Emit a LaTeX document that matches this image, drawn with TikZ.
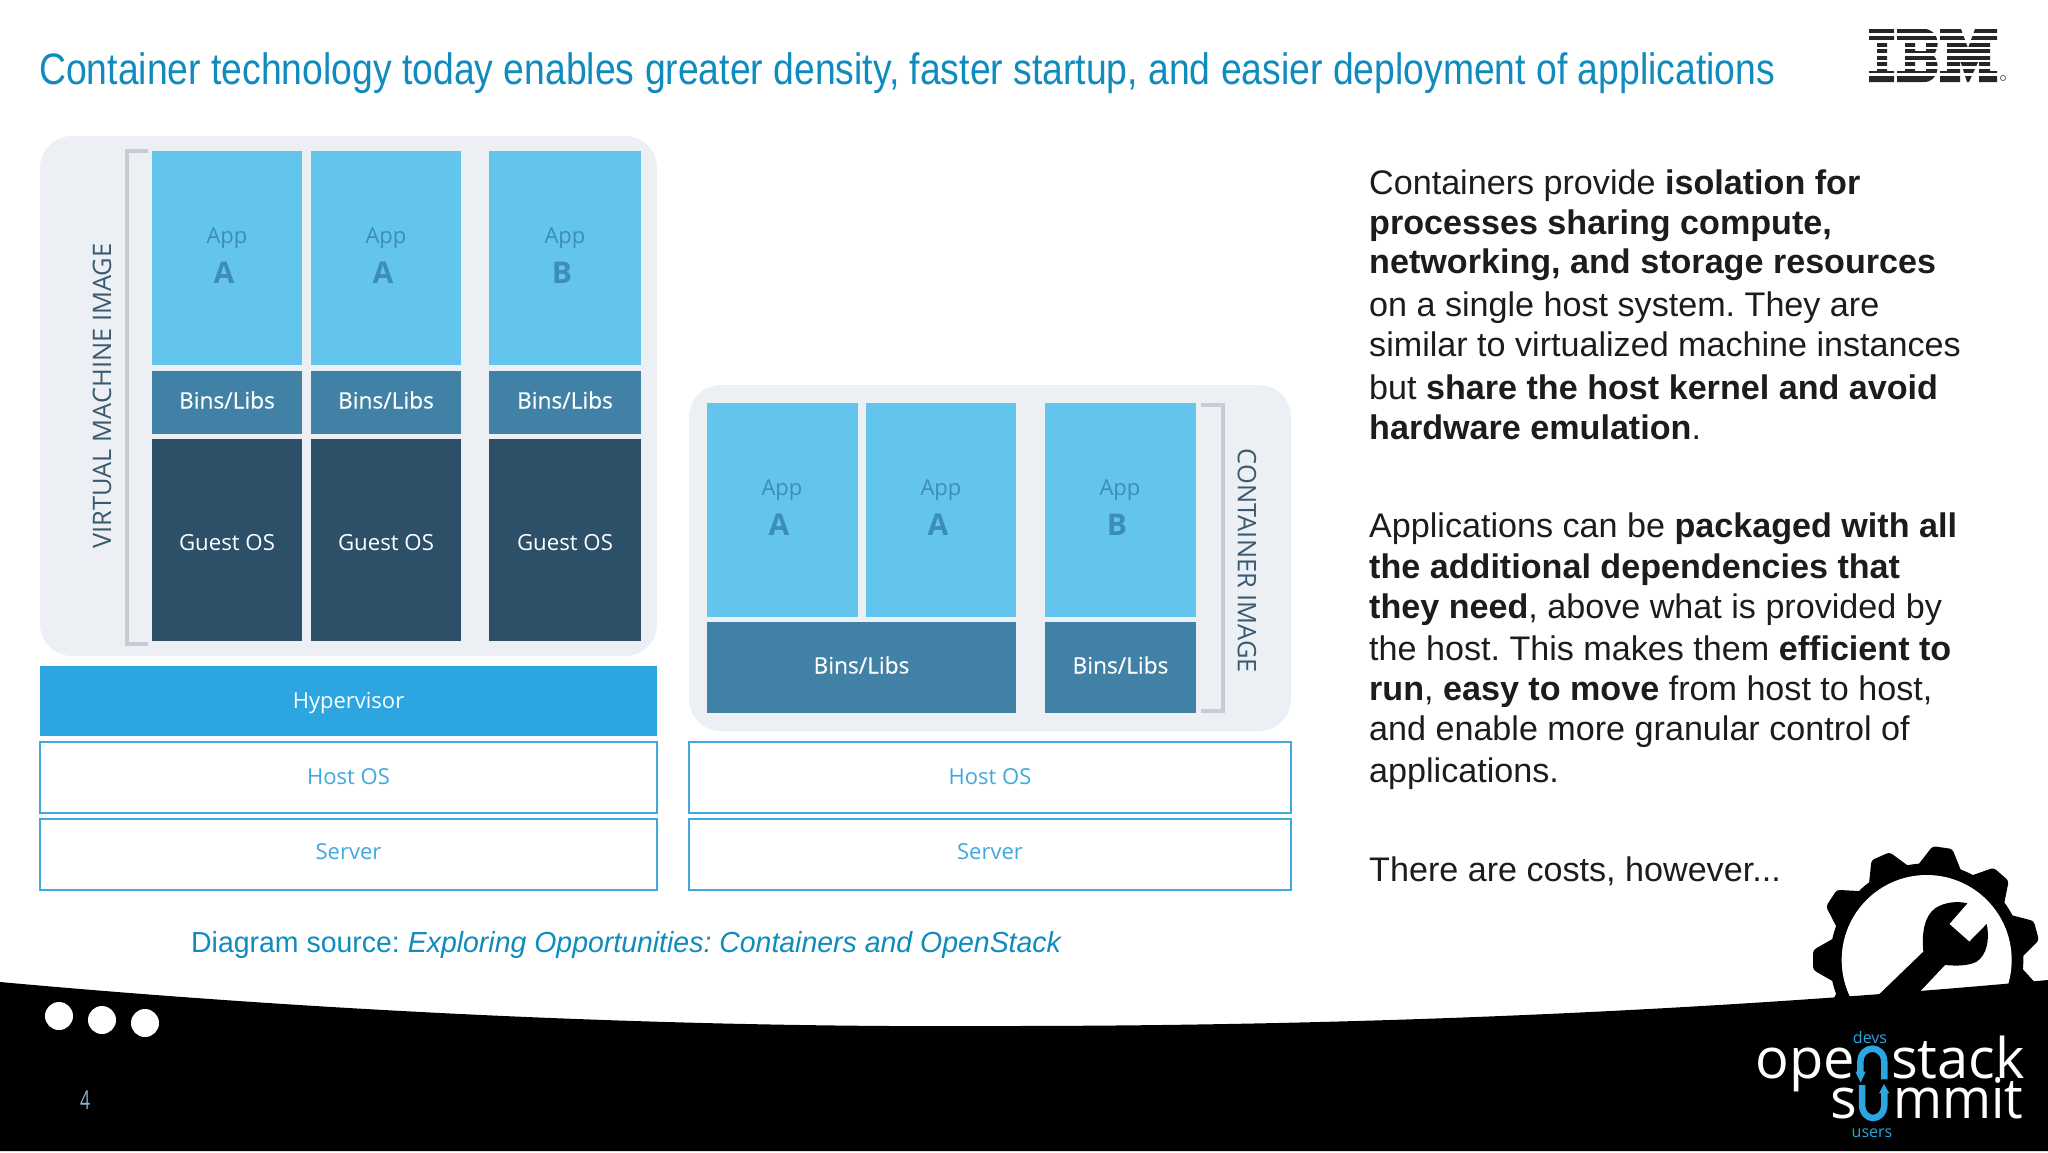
\documentclass[tikz,border=0pt]{standalone}
\usepackage{graphicx}
\usepackage{fontspec}
\setmainfont{Liberation Sans}
\newfontfamily\labelfont{Open Sans}
\newfontfamily\binsfont[FakeBold=0.35]{Open Sans}
\definecolor{panelc}{HTML}{ECF0F5}
\definecolor{appc}{HTML}{63C5EE}
\definecolor{binsc}{HTML}{4181A6}
\definecolor{guestc}{HTML}{2C5068}
\definecolor{hyperc}{HTML}{2CA5E0}
\definecolor{linec}{HTML}{3FA9DD}
\definecolor{apptext}{HTML}{3D8DB9}
\definecolor{titlec}{HTML}{0F8BBD}
\definecolor{bracketc}{HTML}{C8CCD2}
\definecolor{sidetext}{HTML}{3A5A70}
\definecolor{bodyc}{HTML}{1C1C1C}
\definecolor{pagenum}{HTML}{8AB4D0}
\definecolor{loopc}{HTML}{2CA5E0}
\newcommand{\fs}[1]{\fontsize{#1}{#1}\selectfont}
\newcommand{\pbox}[7]{\node[#2,anchor=north west,minimum width={#5-#3},minimum height={#6-#4}] (#1) at (#3,#4) {#7};}
\newcommand{\bodyline}[3]{\node[bodytext] (#1) at (1369,#2) {#3};}
\newcommand{\shifted}[2]{\raisebox{#1}[12pt][12pt]{#2}}
\newcommand{\binstext}{\shifted{-6pt}{Bins/Libs}}
\newcommand{\guesttext}{\shifted{-10.5pt}{Guest OS}}
\newcommand{\hosttext}{\shifted{-6.5pt}{Host OS}}
\newcommand{\servertext}{\shifted{-5.2pt}{Server}}
\tikzset{
  flatbox/.style={inner sep=0,outer sep=0,rectangle},
  appbox/.style={flatbox,fill=appc},
  binsbox/.style={flatbox,fill=binsc,text=white,font=\binsfont\fs{22.7}},
  guestbox/.style={flatbox,fill=guestc,text=white,font=\labelfont\fs{22.2}},
  hyperbox/.style={flatbox,fill=hyperc,text=white,font=\labelfont\fs{22}},
  hostbox/.style={flatbox,draw=linec,line width=2.6pt,fill=white,text=linec,font=\labelfont\fs{22}},
  panelbox/.style={flatbox,fill=panelc,rounded corners=32pt},
  apptxt/.style={inner sep=0,text=apptext,font=\labelfont\fs{22}},
  appletter/.style={inner sep=0,text=apptext,font=\labelfont\bfseries\fs{30}},
  sidelabel/.style={inner sep=0,text=sidetext,font=\labelfont\fs{25.45}},
  bracket/.style={draw=bracketc,line width=4.5pt},
  bodytext/.style={inner sep=0,anchor=base west,text=bodyc,font=\fs{34.12}\frenchspacing},
  logotext/.style={inner sep=0,anchor=base west,text=white,font=\labelfont\fs{56}},
  logosmall/.style={inner sep=0,text=loopc,font=\labelfont\fs{16}},
}
\begin{document}
\begin{tikzpicture}[x=1pt,y=-1pt]
\useasboundingbox (0,0) rectangle (2048,1152);
\fill[white] (0,0) rectangle (2048,1152);

% title
\node[inner sep=0,anchor=base west,text=titlec,font=\fs{44}\frenchspacing] (title) at (39,84)
  {\resizebox{1736pt}{\height}{Container technology today enables greater density, faster startup, and easier deployment of applications}};

% IBM logo
\fill[black!85,even odd rule]
  (1869,29) -- (1894,29) -- (1894,40) -- (1887,40) -- (1887,71) -- (1894,71) -- (1894,82) -- (1869,82) -- (1869,71) -- (1877,71) -- (1877,40) -- (1869,40) -- cycle
  (1897,29) -- (1924,29) .. controls (1939,29) and (1941,48) .. (1933,55) .. controls (1941,62) and (1939,82) .. (1924,82) -- (1897,82) -- (1897,71) -- (1905,71) -- (1905,40) -- (1897,40) -- cycle
  (1915,40) -- (1926,40) -- (1926,51) -- (1915,51) -- cycle
  (1915,60) -- (1926,60) -- (1926,71) -- (1915,71) -- cycle
  (1940,29) -- (1961,29) -- (1968,48) -- (1975,29) -- (1997,29) -- (1997,40) -- (1990,40) -- (1990,71) -- (1997,71) -- (1997,82) -- (1979,82) -- (1979,60) -- (1969,82) -- (1967,82) -- (1960,60) -- (1960,82) -- (1940,82) -- (1940,71) -- (1947,71) -- (1947,40) -- (1940,40) -- cycle;
\foreach \k in {0,...,6} {
  \fill[white] (1865,{33.4+6.6*\k}) rectangle (2000,{35.9+6.6*\k});
}
\draw[black!60,line width=.8pt] (2003,78) circle (2.6);

% left panel
\pbox{vmpanel}{panelbox}{40}{136}{657}{656}{}
\draw[bracket] (148,151) -- (127,151) -- (127,644) -- (148,644);
\node[sidelabel,rotate=90] (vmlabel) at (102,396) {VIRTUAL MACHINE IMAGE};
\pbox{appa1}{appbox}{152}{151}{302}{365}{}
\pbox{appa2}{appbox}{311}{151}{461}{365}{}
\pbox{appb1}{appbox}{489}{151}{641}{365}{}
\node[apptxt] (appa1t) at (227,238.5) {App};
\node[appletter] (appa1l) at (224,273) {A};
\node[apptxt] (appa2t) at (386,238.5) {App};
\node[appletter] (appa2l) at (383,273) {A};
\node[apptxt] (appb1t) at (565,238.5) {App};
\node[appletter] (appb1l) at (562,273) {B};
\pbox{binsa1}{binsbox}{152}{371}{302}{434}{\binstext}
\pbox{binsa2}{binsbox}{311}{371}{461}{434}{\binstext}
\pbox{binsb1}{binsbox}{489}{371}{641}{434}{\binstext}
\pbox{guesta1}{guestbox}{152}{439}{302}{641}{\guesttext}
\pbox{guesta2}{guestbox}{311}{439}{461}{641}{\guesttext}
\pbox{guestb1}{guestbox}{489}{439}{641}{641}{\guesttext}
\pbox{hyper}{hyperbox}{40}{666}{657}{736}{\shifted{-7pt}{Hypervisor}}
\pbox{hostl}{hostbox}{40}{742}{657}{813}{\hosttext}
\pbox{serverl}{hostbox}{40}{819}{657}{890}{\servertext}

% right panel
\pbox{ctpanel}{panelbox}{689}{385}{1291}{731}{}
\draw[bracket] (1201,405) -- (1223,405) -- (1223,711) -- (1201,711);
\node[sidelabel,rotate=-90] (ctlabel) at (1247,561) {CONTAINER IMAGE};
\pbox{appc1}{appbox}{707}{403}{858}{617}{}
\pbox{appc2}{appbox}{866}{403}{1016}{617}{}
\pbox{appc3}{appbox}{1045}{403}{1196}{617}{}
\node[apptxt] (appc1t) at (782,490.5) {App};
\node[appletter] (appc1l) at (779,525) {A};
\node[apptxt] (appc2t) at (941,490.5) {App};
\node[appletter] (appc2l) at (938,525) {A};
\node[apptxt] (appc3t) at (1120,490.5) {App};
\node[appletter] (appc3l) at (1117,525) {B};
\pbox{binsc1}{binsbox}{707}{622}{1016}{713}{\binstext}
\pbox{binsc2}{binsbox}{1045}{622}{1196}{713}{\binstext}
\pbox{hostr}{hostbox}{689}{742}{1291}{813}{\hosttext}
\pbox{serverr}{hostbox}{689}{819}{1291}{890}{\servertext}

% caption
\node[inner sep=0,anchor=base west,text=titlec,font=\fs{29}\frenchspacing] (source) at (191,952)
  {\resizebox{871pt}{\height}{Diagram source: \textit{Exploring Opportunities: Containers and OpenStack}}};

% body text
\bodyline{l1}{194}{Containers provide \textbf{isolation for}}
\bodyline{l2}{234}{\textbf{processes sharing compute,}}
\bodyline{l3}{273}{\textbf{networking, and storage resources}}
\bodyline{l4}{316}{on a single host system. They are}
\bodyline{l5}{356}{similar to virtualized machine instances}
\bodyline{l6}{399}{but \textbf{share the host kernel and avoid}}
\bodyline{l7}{439}{\textbf{hardware emulation}.}
\bodyline{m1}{537}{Applications can be \textbf{packaged with all}}
\bodyline{m2}{578}{\textbf{the additional dependencies that}}
\bodyline{m3}{618}{\textbf{they need}, above what is provided by}
\bodyline{m4}{660}{the host. This makes them \textbf{efficient to}}
\bodyline{m5}{700}{\textbf{run}, \textbf{easy to move} from host to host,}
\bodyline{m6}{740}{and enable more granular control of}
\bodyline{m7}{782}{applications.}
\bodyline{n1}{881}{There are costs, however...}

% gear (coordinates of the logo scope: 1/3 px)
\begin{scope}[shift={(1700,820)},scale=1/3]
  \begin{scope}[shift={(680,420)}]
    \fill[black] (0,0) circle (290);
    \foreach \a in {-18,15,49,82,114,147,180,213} {
      \fill[black,rounded corners=3pt] ({-\a-14}:282) -- ({-\a-5}:342) -- ({-\a+5}:342) -- ({-\a+14}:282) -- cycle;
    }
    \fill[white] (0,0) circle (255);
  \end{scope}
  \fill[black] (530,530) -- (670,395) .. controls (665,340) and (672,290) .. (705,265) .. controls (735,245) and (775,243) .. (802,250) -- (748,312) -- (808,365) -- (860,312) .. controls (870,360) and (860,405) .. (830,425) .. controls (805,438) and (770,438) .. (735,435) -- (655,520) -- cycle;
\end{scope}

% black band
\fill[black] (0,982) .. controls (330,1012) and (680,1028) .. (1000,1026) .. controls (1350,1026) and (1700,1012) .. (2048,980) -- (2048,1151) -- (0,1151) -- cycle;
\node[fill=white,circle,inner sep=0,minimum size=28pt] (dot1) at (59,1016) {};
\node[fill=white,circle,inner sep=0,minimum size=28pt] (dot2) at (102,1020) {};
\node[fill=white,circle,inner sep=0,minimum size=28pt] (dot3) at (145,1023) {};
\node[inner sep=0,text=pagenum,font=\labelfont\fs{26}] (pageno) at (85,1100) {\resizebox{10pt}{\height}{4}};

% openstack summit logo
\node[logotext] (lope) at (1755,1078) {ope};
\node[logotext] (lstack) at (1891,1078) {stack};
\node[logotext] (ls) at (1830,1118) {s};
\node[logotext] (lmmit) at (1893,1118) {\resizebox{130pt}{\height}{mmit}};
\node[logosmall] (ldevs) at (1870,1037) {devs};
\node[logosmall] (lusers) at (1872,1133) {users};
\begin{scope}[shift={(1700,820)},scale=1/3]
  \draw[loopc,line width=6.5pt]
    (481,765) -- (481,728) .. controls (481,672) and (553,672) .. (553,728) -- (553,778);
  \draw[loopc,line width=6.5pt]
    (486,795) -- (486,852) .. controls (486,908) and (553,908) .. (553,852) -- (553,812);
  \fill[loopc] (466,755) -- (497,755) -- (482,788) -- cycle;
  \fill[loopc] (537,820) -- (568,820) -- (552,792) -- cycle;
\end{scope}
\end{tikzpicture}
\end{document}
